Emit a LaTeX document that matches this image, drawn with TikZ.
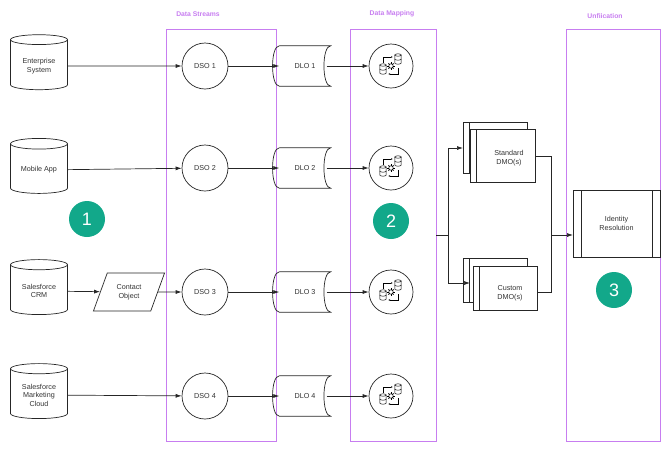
\documentclass[tikz,border=0pt]{standalone}
\usepackage{fontspec}
\setmainfont{Liberation Sans}
\usetikzlibrary{arrows.meta,shapes.geometric,shapes.symbols}
\definecolor{pur}{HTML}{C77DF0}
\definecolor{teal}{HTML}{12A88A}
\begin{document}
\begin{tikzpicture}[x=1pt,y=-1pt,
  every node/.style={font=\fontsize{7.2}{8.5}\selectfont,align=center,text=black!80},
  ln/.style={draw=black!85,line width=0.7pt},
  arr/.style={ln,-{Latex[length=6pt,width=4pt]}},
  cyl/.style={ln,cylinder,shape border rotate=90,aspect=0.25,minimum width=57pt,minimum height=55pt},
  dso/.style={ln,circle,minimum size=46pt},
  ico/.style={ln,circle,minimum size=44pt},
  band/.style={draw=pur,line width=0.8pt},
  lab/.style={text=pur,font=\fontsize{6.8}{7.5}\selectfont\bfseries},
  badge/.style={circle,fill=teal,minimum size=36pt,text=white,font=\fontsize{18}{18}\selectfont}]
\useasboundingbox (0,0) rectangle (661,451);
% bands
\draw[band] (166,29) rectangle (276,441);
\draw[band] (350,29) rectangle (436,441);
\draw[band] (566,29) rectangle (660,441);
\node[lab] (t1) at (198,14) {Data Streams};
\node[lab] (t2) at (392,14) {Data Mapping};
\node[lab] (t3) at (605,16) {Unfiication};
% sources
\node[cyl] (s1) at (39,66) {Enterprise\\System};
\node[cyl] (s2) at (39,170) {Mobile App};
\node[cyl] (s3) at (39,291) {Salesforce\\CRM};
\node[cyl] (s4) at (39,395) {Salesforce\\Marketing\\Cloud};
\node[ln,trapezium,trapezium left angle=70,trapezium right angle=110,minimum width=58pt,minimum height=38pt,inner xsep=0pt] (co) at (129,292) {Contact\\Object};
% DSO
\foreach \i/\y in {1/66,2/168,3/292,4/396}{
  \node[dso] (d\i) at (205,\y) {DSO \i};
  \node[minimum width=51pt,minimum height=40pt] (l\i) at (305,\y) {DLO \i};
  \draw[ln] (l\i.north west) -- (l\i.north east) .. controls ([xshift=-9pt]l\i.north east) and ([xshift=-9pt]l\i.south east) .. (l\i.south east) -- (l\i.south west) .. controls ([xshift=-9pt]l\i.south west) and ([xshift=-9pt]l\i.north west) .. (l\i.north west);
  \node[ico] (m\i) at (391,\y) {};
  \begin{scope}[shift={(m\i.center)},yscale=-1,line width=0.5pt]
    \foreach \cx/\cy in {-8/-3/,7/7}{
      \draw (\cx-3.2,\cy+4) -- (\cx-3.2,\cy-4) arc[start angle=180,end angle=360,x radius=3.2,y radius=1.2] -- (\cx+3.2,\cy+4);
      \draw (\cx,\cy+4) ellipse[x radius=3.2,y radius=1.2];
      \draw (\cx-3.2,\cy) arc[start angle=180,end angle=360,x radius=3.2,y radius=1.2];
    }
    \draw (0,0) circle (2.2);
    \foreach \a in {0,45,...,315} \draw[line width=1pt] (\a:2.2) -- (\a:3.6);
    \draw[-{Latex[length=2pt]}] (-8,3) -- (-8,9) -- (2,9);
    \draw[-{Latex[length=2pt]}] (7,-2) -- (7,-8) -- (-3,-8);
  \end{scope}
  \draw[arr] (d\i) -- (l\i);
  \draw[arr] ([xshift=-4pt]l\i.east) -- (m\i);
}
\draw[arr] (s1) -- (d1);
\draw[arr] (s2) -- (d2);
\draw[arr] (s3) -- (co);
\draw[arr] (co) -- (d3);
\draw[arr] (s4) -- (d4);
% DMOs
\draw[ln,fill=white] (463,122) rectangle (527,173); \draw[ln] (469,122)--(469,173);
\draw[ln,fill=white] (470,129) rectangle (535,182); \draw[ln] (476,129)--(476,182);
\node (sd) at (509,158) {Standard\\DMO(s)};
\draw[ln,fill=white] (463,258) rectangle (527,302); \draw[ln] (469,258)--(469,302);
\draw[ln,fill=white] (473,266) rectangle (537,310); \draw[ln] (479,266)--(479,310);
\node (cd) at (510,293) {Custom\\DMO(s)};
\coordinate (sp) at (436,235);
\coordinate (sj) at (448,235);
\coordinate (st) at (463,148);
\coordinate (ct) at (470,283);
\draw[ln] (sp) -- (sj);
\draw[arr] (sj) |- (st);
\draw[arr] (sj) |- (ct);
% identity
\node[ln,minimum width=87pt,minimum height=67pt] (ir) at (616.5,223.5) {Identity\\Resolution};
\draw[ln] (581,190)--(581,257) (652,190)--(652,257);
\coordinate (so) at (535,156);
\coordinate (co2) at (537,292);
\coordinate (mj) at (551,235);
\draw[ln] (so) -| (mj) (co2) -| (mj);
\draw[arr] (mj) -- (573,235);
% badges
\node[badge] (b1) at (87,219) {1};
\node[badge] (b2) at (391,221) {2};
\node[badge] (b3) at (614,290) {3};
\end{tikzpicture}
\end{document}
